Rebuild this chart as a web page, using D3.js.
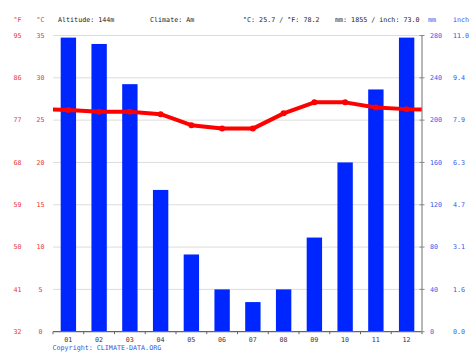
<!DOCTYPE html>
<html><head><meta charset="utf-8">
<script src="https://cdn.jsdelivr.net/npm/d3@7"></script>
<style>body{margin:0;background:#fff}svg{display:block}text{font-family:"DejaVu Sans Mono","Liberation Mono",monospace;font-size:6.7px}</style>
</head><body><svg id="c" width="474" height="355"></svg>
<script>
const months = ["01","02","03","04","05","06","07","08","09","10","11","12"];
const tempC = [26.2, 26.0, 26.0, 25.7, 24.4, 24.0, 24.0, 25.8, 27.1, 27.1, 26.5, 26.3];
const precipMM = [278, 272, 234, 134, 73, 40, 28, 40, 89, 160, 229, 278];
const cTicks = [0,5,10,15,20,25,30,35];
const fLabels = ["32","41","50","59","68","77","86","95"];
const mmTicks = [0,40,80,120,160,200,240,280];
const inchLabels = ["0.0","1.6","3.1","4.7","6.3","7.9","9.4","11.0"];
const headerTexts = ["Altitude: 144m","Climate: Am","°C: 25.7 / °F: 78.2","mm: 1855 / inch: 73.0"];

const svg = d3.select("#c");
const L = 53, R = 422, T = 35.5, B = 331.7;
const x = d3.scaleBand().domain(months).range([L,R]).paddingInner(0.5).paddingOuter(0.25);
const yT = d3.scaleLinear().domain([0,35]).range([B,T]);
const yP = d3.scaleLinear().domain([0,280]).range([B,T]);
const red = "#ee3333", blue = "#3355ee";

// gridlines
svg.append("g").selectAll("line").data(cTicks.slice(1)).join("line")
  .attr("x1",L).attr("x2",R).attr("y1",d=>yT(d)).attr("y2",d=>yT(d))
  .attr("stroke","#dcdcdc").attr("stroke-width",1);

// bars
svg.append("g").selectAll("rect").data(months).join("rect")
  .attr("x",d=>x(d)).attr("width",x.bandwidth())
  .attr("y",(d,i)=>yP(precipMM[i])).attr("height",(d,i)=>B-yP(precipMM[i]))
  .attr("fill","#0026ff");

// temperature line with edge continuation
const edge = (tempC[0]+tempC[11])/2;
const pts = [[L,edge]].concat(months.map((m,i)=>[x(m)+x.bandwidth()/2,tempC[i]])).concat([[R,edge]]);
svg.append("path").datum(pts)
  .attr("d",d3.line().x(d=>d[0]).y(d=>yT(d[1])))
  .attr("fill","none").attr("stroke","#ff0000").attr("stroke-width",4).attr("stroke-linejoin","round");
svg.append("g").selectAll("circle").data(months).join("circle")
  .attr("cx",d=>x(d)+x.bandwidth()/2).attr("cy",(d,i)=>yT(tempC[i])).attr("r",3)
  .attr("fill","#ff0000");

// bottom axis
const xb = svg.append("g");
xb.append("line").attr("x1",L).attr("x2",R).attr("y1",B).attr("y2",B).attr("stroke","#666").attr("stroke-width",1.2);
xb.selectAll("line.t").data(d3.range(13)).join("line").attr("class","t")
  .attr("x1",i=>L+i*x.step()).attr("x2",i=>L+i*x.step()).attr("y1",B).attr("y2",B+2.5)
  .attr("stroke","#666");
xb.selectAll("text").data(months).join("text")
  .attr("x",d=>x(d)+x.bandwidth()/2).attr("y",342).attr("text-anchor","middle")
  .attr("fill","#333").text(d=>d);

// right axis
const ra = svg.append("g");
ra.append("line").attr("x1",R).attr("x2",R).attr("y1",T).attr("y2",B).attr("stroke","#888").attr("stroke-width",1.2);
ra.selectAll("line.t").data(mmTicks).join("line").attr("class","t")
  .attr("x1",R-2.5).attr("x2",R+2.5).attr("y1",d=>yP(d)).attr("y2",d=>yP(d)).attr("stroke","#888");
ra.selectAll("text.mm").data(mmTicks).join("text").attr("class","mm")
  .attr("x",430).attr("y",d=>yP(d)).attr("dy","0.35em").attr("fill",blue).text(d=>d);
ra.selectAll("text.in").data(inchLabels).join("text").attr("class","in")
  .attr("x",453).attr("y",(d,i)=>yP(mmTicks[i])).attr("dy","0.35em").attr("fill",blue).text(d=>d);

// left labels
const la = svg.append("g");
la.selectAll("text.c").data(cTicks).join("text").attr("class","c")
  .attr("x",40.5).attr("y",d=>yT(d)).attr("dy","0.35em").attr("text-anchor","middle").attr("fill",red).text(d=>d);
la.selectAll("text.f").data(fLabels).join("text").attr("class","f")
  .attr("x",17.5).attr("y",(d,i)=>yT(cTicks[i])).attr("dy","0.35em").attr("text-anchor","middle").attr("fill",red).text(d=>d);

// header
svg.append("text").attr("x",17.5).attr("y",22).attr("text-anchor","middle").attr("fill",red).text("°F");
svg.append("text").attr("x",40.5).attr("y",22).attr("text-anchor","middle").attr("fill",red).text("°C");
const hx = [58,150,243,335];
headerTexts.forEach((t,i)=>svg.append("text").attr("x",hx[i]).attr("y",22).attr("fill","#222").text(t));
svg.append("text").attr("x",428).attr("y",22).attr("fill",blue).text("mm");
svg.append("text").attr("x",453).attr("y",22).attr("fill",blue).text("inch");

// copyright
svg.append("text").attr("x",52.5).attr("y",350).attr("fill","#3355dd").text("Copyright: CLIMATE-DATA.ORG");
</script></body></html>
